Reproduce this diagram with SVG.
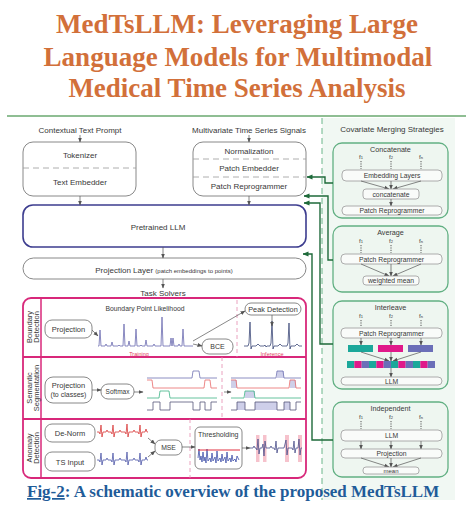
<svg xmlns="http://www.w3.org/2000/svg" width="474" height="511" viewBox="0 0 474 511">
<defs>
<style>
.title{font-family:"Liberation Serif","Times New Roman",serif;font-weight:bold;fill:#d2703a;font-size:27px;text-anchor:middle}
.cap{font-family:"Liberation Serif","Times New Roman",serif;font-weight:bold;fill:#1f5c99;font-size:17px}
.t{font-family:"Liberation Sans",Arial,sans-serif;fill:#383838;font-size:7.5px;text-anchor:middle}
.sm{font-size:6px}
.in{font-size:6.8px}
.red{fill:#e04060;font-size:5.5px}
.box{fill:#fff;stroke:#7a7a7a;stroke-width:0.9}
.dash{stroke:#9a9a9a;stroke-width:0.8;stroke-dasharray:6 4;fill:none}
.mdash{stroke:#e58aae;stroke-width:0.8;stroke-dasharray:4 3;fill:none}
.ar{stroke:#555;stroke-width:0.7;fill:none;marker-end:url(#ah)}
.gar{stroke:#1e6a3a;stroke-width:1.4;fill:none;marker-end:url(#gh)}
.gb{fill:#eef6f0;stroke:#62b083;stroke-width:1.3}
.ib{fill:#f9fbf9;stroke:#9a9a9a;stroke-width:0.8}
.dot{stroke:#444;stroke-width:0.9;stroke-dasharray:1.2 1.2;fill:none}
.wave{fill:none;stroke-width:0.8;stroke-linejoin:round}
.shade{fill:#b9badf;opacity:0.7}
</style>
<marker id="ah" markerWidth="5" markerHeight="5" refX="4.5" refY="2.5" orient="auto" markerUnits="userSpaceOnUse"><path d="M0,0.5 L5,2.5 L0,4.5 z" fill="#555"/></marker>
<marker id="gh" markerWidth="6" markerHeight="6" refX="5.5" refY="3" orient="auto" markerUnits="userSpaceOnUse"><path d="M0,0.5 L6,3 L0,5.5 z" fill="#1e6a3a"/></marker>
</defs>
<rect width="474" height="511" fill="#fff"/>

<g id="title">
<text class="title" x="237" y="33">MedTsLLM: Leveraging Large</text>
<text class="title" x="238" y="66">Language Models for Multimodal</text>
<text class="title" x="237" y="97">Medical Time Series Analysis</text>
</g>

<line x1="7" y1="116" x2="466" y2="116" stroke="#6aa86f" stroke-width="1.5"/>
<rect x="322" y="118" width="133" height="382" fill="#f1f8f3"/>
<line x1="322" y1="118" x2="322" y2="500" stroke="#6ab58a" stroke-width="1" stroke-dasharray="6 4"/>

<g id="text-input">
<text class="t" x="80" y="133" style="font-size:8px">Contextual Text Prompt</text>
<rect class="box" x="23" y="142" width="113" height="54" rx="10"/>
<line class="dash" x1="23" y1="168" x2="136" y2="168"/>
<text class="t" x="80" y="158" style="font-size:8px">Tokenizer</text>
<text class="t" x="80" y="185" style="font-size:8px">Text Embedder</text>
</g>
<g id="ts-input">
<text class="t" x="249" y="133" style="font-size:8px">Multivariate Time Series Signals</text>
<rect class="box" x="193" y="142" width="113" height="54" rx="10"/>
<line class="dash" x1="193" y1="159" x2="306" y2="159"/>
<line class="dash" x1="193" y1="177" x2="306" y2="177"/>
<text class="t" x="249" y="154" style="font-size:8px">Normalization</text>
<text class="t" x="249" y="171" style="font-size:8px">Patch Embedder</text>
<text class="t" x="249" y="189" style="font-size:8px">Patch Reprogrammer</text>
</g>
<g id="llm">
<rect x="23" y="205" width="283" height="42" rx="10" fill="#fff" stroke="#3d3d8f" stroke-width="1.6"/>
<text class="t" x="158" y="230" style="font-size:8px">Pretrained LLM</text>
</g>
<g id="projection-layer">
<rect class="box" x="23" y="258" width="283" height="21" rx="10.5"/>
<text class="t" x="164" y="272.5"><tspan style="font-size:8px">Projection Layer </tspan><tspan class="sm">(patch embeddings to points)</tspan></text>
</g>
<text class="t" x="163" y="296" style="font-size:8px">Task Solvers</text>

<g id="task-solvers">
<rect x="23" y="298" width="283" height="180" rx="8" fill="#fff" stroke="#d8287a" stroke-width="1.8"/>
<line x1="41" y1="298" x2="41" y2="478" stroke="#d8287a" stroke-width="1.5"/>
<line x1="23" y1="357" x2="306" y2="357" stroke="#d8287a" stroke-width="1.8"/>
<line x1="23" y1="419" x2="306" y2="419" stroke="#d8287a" stroke-width="1.8"/>
<text class="t" transform="translate(32,327) rotate(-90)" style="font-size:7.5px"><tspan x="0" y="-0.5">Boundary</tspan><tspan x="0" y="7">Detection</tspan></text>
<text class="t" transform="translate(32,388) rotate(-90)" style="font-size:7.5px"><tspan x="0" y="-0.5">Semantic</tspan><tspan x="0" y="7">Segmentation</tspan></text>
<text class="t" transform="translate(32,448) rotate(-90)" style="font-size:7.5px"><tspan x="0" y="-0.5">Anomaly</tspan><tspan x="0" y="7">Detection</tspan></text>
</g>

<g id="boundary-detection">
<text class="t" x="145" y="311" style="font-size:6.8px">Boundary Point Likelihood</text>
<rect class="box" x="45" y="320" width="47" height="18" rx="7"/>
<text class="t" x="68.5" y="331.5">Projection</text>
<path class="wave" stroke="#6b6bb0" d="M98,346 H99 L100,330 L101,346 H105 L106,344 L107,346 H111 L112,342 L113,346 H118 L119,345 L120,346 H123 L124,324 L125,346 H128 L129,341 L130,346 H135 L136,329 L137,346 H140 L141,345 L142,346 H145 L146,340 L147,346 H153 L154,344 L155,346 H161 L162,317 L163,346 H170 L171,338 L172,346 L173,338 L174,346 H178 L179,344 L180,346 H182 L183,329 L184,346 H193"/>
<rect class="box" x="202" y="339" width="31" height="15" rx="7"/>
<text class="t" x="217.5" y="349" style="font-size:7px">BCE</text>
<rect class="box" x="245" y="303" width="56" height="12" rx="6"/>
<text class="t" x="273" y="312" style="font-size:7.3px">Peak Detection</text>
<line class="mdash" x1="237" y1="300" x2="237" y2="357"/>
<text class="t red" x="139" y="355.5">Training</text>
<text class="t red" x="272" y="355.5">Inference</text>
<path class="wave" stroke="#3b4777" d="M244,346 H248 L249,343 L250,322 L251,349 L252,346 H256 L258,344 L260,346 H264 L265,345 L266,347 L267,346 H270 L271,343 L272,321 L273,349 L274,346 H278 L280,344 L282,346 H287 L288,343 L289,323 L290,349 L291,346 H295 L297,344 L299,346 H302"/>
</g>

<g id="semantic-segmentation">
<rect class="box" x="45" y="377" width="47" height="26" rx="8"/>
<text class="t" x="68.5" y="388">Projection</text>
<text class="t" x="68.5" y="397" style="font-size:7px">(to classes)</text>
<rect class="box" x="101" y="384" width="33" height="15" rx="7"/>
<text class="t" x="117.5" y="394" style="font-size:6.5px">Softmax</text>
<path class="wave" stroke="#7072b2" d="M147,378 H192 L193,371 H199 L200,378 H217"/>
<path class="wave" stroke="#e86a6a" d="M147,380 H152 L153,388 H204 L205,380 H210 L211,388 H217"/>
<path class="wave" stroke="#3fb487" d="M147,398 H159 L160,391 H169 L170,398 H217"/>
<path class="wave" stroke="#55577a" d="M147,410 H153 L153,402 H160 L160,410 H170 L170,402 H193 L193,410 H200 L200,402 H205 L205,410 H211 L211,402 H217"/>
<line class="mdash" x1="222" y1="357" x2="222" y2="419"/>
<rect class="shade" x="277" y="371" width="7" height="7"/>
<rect class="shade" x="231" y="380" width="6" height="8"/>
<rect class="shade" x="290" y="380" width="6" height="8"/>
<rect class="shade" x="245" y="391" width="10" height="7"/>
<rect class="shade" x="237" y="402" width="8" height="8"/>
<rect class="shade" x="255" y="402" width="22" height="8"/>
<rect class="shade" x="284" y="402" width="6" height="8"/>
<path class="wave" stroke="#7072b2" d="M231,378 H276 L277,371 H283 L284,378 H301"/>
<path class="wave" stroke="#e86a6a" d="M231,380 H236 L237,388 H289 L290,380 H295 L296,388 H301"/>
<path class="wave" stroke="#3fb487" d="M231,398 H244 L245,391 H254 L255,398 H301"/>
<path class="wave" stroke="#55577a" d="M231,410 H237 L237,402 H245 L245,410 H255 L255,402 H277 L277,410 H284 L284,402 H290 L290,410 H296 L296,402 H301"/>
</g>

<g id="anomaly-detection">
<rect class="box" x="45" y="424" width="50" height="18" rx="7"/>
<text class="t" x="70" y="435.5">De-Norm</text>
<rect class="box" x="45" y="452" width="50" height="19" rx="7"/>
<text class="t" x="70" y="464.5">TS Input</text>
<path class="wave" stroke="#d83a3a" d="M97,432 H99 L100,434 L101,425 L102,437 L103,432 H106 L107,430 L108,432 H111 L112,434 L113,425 L114,437 L115,432 H119 L120,430 L121,432 H125 L126,434 L127,424 L128,437 L129,432 H133 L134,430 L135,432 H138 L139,434 L140,425 L141,437 L142,432 H145 L146,429 L147,432 H148"/>
<path class="wave" stroke="#4f58a8" d="M97,460 H99 L100,462 L101,453 L102,465 L103,460 H106 L107,458 L108,460 H111 L112,462 L113,453 L114,465 L115,460 H119 L120,458 L121,460 H125 L126,462 L127,452 L128,465 L129,460 H133 L134,458 L135,460 H138 L139,462 L140,453 L141,465 L142,460 H145 L146,457 L147,460 H148"/>
<rect class="box" x="155" y="440" width="27" height="15" rx="6"/>
<text class="t" x="168.5" y="450.3" style="font-size:6.8px">MSE</text>
<line class="mdash" x1="190" y1="419" x2="190" y2="478"/>
<rect class="box" x="195" y="427" width="47" height="42" rx="5"/>
<text class="t" x="198" y="437" style="font-size:7px;text-anchor:start">Thresholding</text>
<path class="wave" stroke="#3f4fa8" d="M198,458 L199,449 L200,460 L201,456 L202,462 L203,452 L204,461 L205,457 L206,463 L207,449 L208,461 L210,458 L211,462 L212,453 L213,461 L215,457 L216,463 L217,451 L218,461 L220,458 L221,462 L222,454 L223,461 L225,457 L226,463 L227,452 L228,461 L230,458 L231,462 L232,455 L233,461 L235,459 L236,462 L237,456 L239,460"/>
<line x1="198" y1="450" x2="240" y2="450" stroke="#e03040" stroke-width="1"/>
<rect x="256" y="435" width="3.5" height="27" fill="#f4b3bf" opacity="0.8"/>
<rect x="263" y="435" width="3.5" height="27" fill="#f4b3bf" opacity="0.8"/>
<rect x="285" y="435" width="4" height="27" fill="#f4b3bf" opacity="0.8"/>
<rect x="298" y="435" width="4" height="27" fill="#f4b3bf" opacity="0.8"/>
<path class="wave" stroke="#4a4f8a" d="M250,448 H253 L254,446 L255,448 H256 L257,450 L258,439 L259,454 L260,448 H262 L263,444 L264,456 L265,441 L266,448 H270 L271,446 L272,448 H274 L275,450 L276,441 L277,453 L278,448 H284 L286,440 L287,455 L288,448 H292 L293,450 L294,441 L295,453 L296,448 H298 L299,439 L300,455 L301,448 H302"/>
</g>

<text class="t" x="392" y="132" style="font-size:8px">Covariate Merging Strategies</text>

<g id="concatenate">
<rect class="gb" x="333" y="143" width="115" height="75" rx="9"/>
<text class="t" x="390.5" y="152" style="font-size:7.2px">Concatenate</text>
<text class="t sm" x="361" y="159">f<tspan style="font-size:4px">1</tspan></text>
<text class="t sm" x="391" y="159">f<tspan style="font-size:4px">2</tspan></text>
<text class="t sm" x="421" y="159">f<tspan style="font-size:4px">n</tspan></text>
<path class="dot" d="M361,161 V169 M391,161 V169 M421,161 V169"/>
<rect class="ib" x="342" y="170" width="100" height="11" rx="4"/>
<text class="t in" x="392" y="178">Embedding Layers</text>
<path class="ar" d="M361,181 L389,189"/><path class="ar" d="M391,181 V189"/><path class="ar" d="M421,181 L393,189"/>
<rect class="ib" x="363" y="189" width="56" height="10" rx="3"/>
<text class="t in" x="391" y="196.6">concatenate</text>
<path class="ar" d="M391,199 V206"/>
<rect class="ib" x="342" y="206" width="100" height="9" rx="4"/>
<text class="t in" x="392" y="213">Patch Reprogrammer</text>
</g>

<g id="average">
<rect class="gb" x="333" y="226" width="115" height="66" rx="9"/>
<text class="t" x="390.5" y="235" style="font-size:7.2px">Average</text>
<text class="t sm" x="361" y="243">f<tspan style="font-size:4px">1</tspan></text>
<text class="t sm" x="391" y="243">f<tspan style="font-size:4px">2</tspan></text>
<text class="t sm" x="421" y="243">f<tspan style="font-size:4px">n</tspan></text>
<path class="dot" d="M361,245 V253 M391,245 V253 M421,245 V253"/>
<rect class="ib" x="341" y="254" width="101" height="10" rx="4"/>
<text class="t in" x="391.5" y="261.6">Patch Reprogrammer</text>
<path class="ar" d="M361,264 L389,276"/><path class="ar" d="M391,264 V276"/><path class="ar" d="M421,264 L393,276"/>
<rect class="ib" x="363" y="276" width="56" height="9" rx="3"/>
<text class="t in" x="391" y="283">weighted mean</text>
</g>

<g id="interleave">
<rect class="gb" x="333" y="301" width="115" height="88" rx="9"/>
<text class="t" x="390.5" y="310" style="font-size:7.2px">Interleave</text>
<text class="t sm" x="361" y="318">f<tspan style="font-size:4px">1</tspan></text>
<text class="t sm" x="391" y="318">f<tspan style="font-size:4px">2</tspan></text>
<text class="t sm" x="421" y="318">f<tspan style="font-size:4px">n</tspan></text>
<path class="dot" d="M361,320 V327 M391,320 V327 M421,320 V327"/>
<rect class="ib" x="341" y="328" width="101" height="10" rx="4"/>
<text class="t in" x="391.5" y="335.6">Patch Reprogrammer</text>
<path class="ar" d="M361,338 V345"/><path class="ar" d="M391,338 V345"/><path class="ar" d="M421,338 V345"/>
<rect x="348" y="345" width="25" height="7" fill="#1ba89a"/>
<rect x="378" y="345" width="25" height="7" fill="#e0198a"/>
<rect x="408" y="345" width="25" height="7" fill="#6b6fb8"/>
<path class="ar" d="M361,352 L389,361"/><path class="ar" d="M391,352 V361"/><path class="ar" d="M421,352 L393,361"/>
<rect x="347" y="361" width="7.33" height="7" fill="#1ba89a"/>
<rect x="354.33" y="361" width="7.33" height="7" fill="#e0198a"/>
<rect x="361.66" y="361" width="7.33" height="7" fill="#6b6fb8"/>
<rect x="369" y="361" width="7.33" height="7" fill="#1ba89a"/>
<rect x="376.33" y="361" width="7.33" height="7" fill="#e0198a"/>
<rect x="383.66" y="361" width="7.33" height="7" fill="#6b6fb8"/>
<rect x="391" y="361" width="7.33" height="7" fill="#1ba89a"/>
<rect x="398.33" y="361" width="7.33" height="7" fill="#e0198a"/>
<rect x="405.66" y="361" width="7.33" height="7" fill="#6b6fb8"/>
<rect x="413" y="361" width="7.33" height="7" fill="#1ba89a"/>
<rect x="420.33" y="361" width="7.33" height="7" fill="#e0198a"/>
<rect x="427.66" y="361" width="7.34" height="7" fill="#6b6fb8"/>
<path class="ar" d="M391,368 V377"/>
<rect class="ib" x="341" y="377" width="101" height="8" rx="4"/>
<text class="t in" x="391.5" y="383.5">LLM</text>
</g>

<g id="independent">
<rect class="gb" x="333" y="402" width="115" height="75" rx="9"/>
<text class="t" x="390.5" y="411" style="font-size:7.2px">Independent</text>
<text class="t sm" x="361" y="419">f<tspan style="font-size:4px">1</tspan></text>
<text class="t sm" x="391" y="419">f<tspan style="font-size:4px">2</tspan></text>
<text class="t sm" x="421" y="419">f<tspan style="font-size:4px">n</tspan></text>
<path class="dot" d="M361,421 V429 M391,421 V429 M421,421 V429"/>
<rect class="ib" x="341" y="430" width="101" height="11" rx="4"/>
<text class="t in" x="391.5" y="438">LLM</text>
<path class="ar" d="M361,441 V449"/><path class="ar" d="M391,441 V449"/><path class="ar" d="M421,441 V449"/>
<rect class="ib" x="341" y="449" width="101" height="9" rx="4"/>
<text class="t in" x="391.5" y="456">Projection</text>
<path class="ar" d="M361,458 L389,467"/><path class="ar" d="M391,458 V467"/><path class="ar" d="M421,458 L393,467"/>
<rect class="ib" x="363" y="467" width="56" height="7" rx="3"/>
<text class="t" x="391" y="473" style="font-size:6px">mean</text>
</g>

<g id="connectors">
<path class="ar" d="M80,135 V142"/>
<path class="ar" d="M80,196 V205"/>
<path class="ar" d="M249,135 V142"/>
<path class="ar" d="M249,196 V205"/>
<path class="ar" d="M163,247 V258"/>
<path class="ar" d="M163,279 V288"/>
<path class="ar" d="M92,330 L98,336"/>
<path class="ar" d="M193,344 L202,346"/>
<path class="ar" d="M193,341 L245,311"/>
<path class="ar" d="M272,315 V326"/>
<path class="ar" d="M92,390 H101"/>
<path class="ar" d="M134,392 H143"/>
<path class="ar" d="M224,392 H231"/>
<path class="ar" d="M148,438 L155,444"/>
<path class="ar" d="M148,457 L155,451"/>
<path class="ar" d="M182,447 H195"/>
<path class="ar" d="M242,448 H250"/>
<path class="gar" d="M333,183 H325 V177 H307"/>
<path class="gar" d="M333,260 H328 V196 H304"/>
<path class="gar" d="M333,344 H320 V203 H304"/>
<path class="gar" d="M333,440 H312 V254 H303"/>
</g>

<g id="caption">
<text class="cap" x="27" y="497"><tspan text-decoration="underline">Fig-2</tspan>: A schematic overview of the proposed MedTsLLM</text>
</g>
</svg>
